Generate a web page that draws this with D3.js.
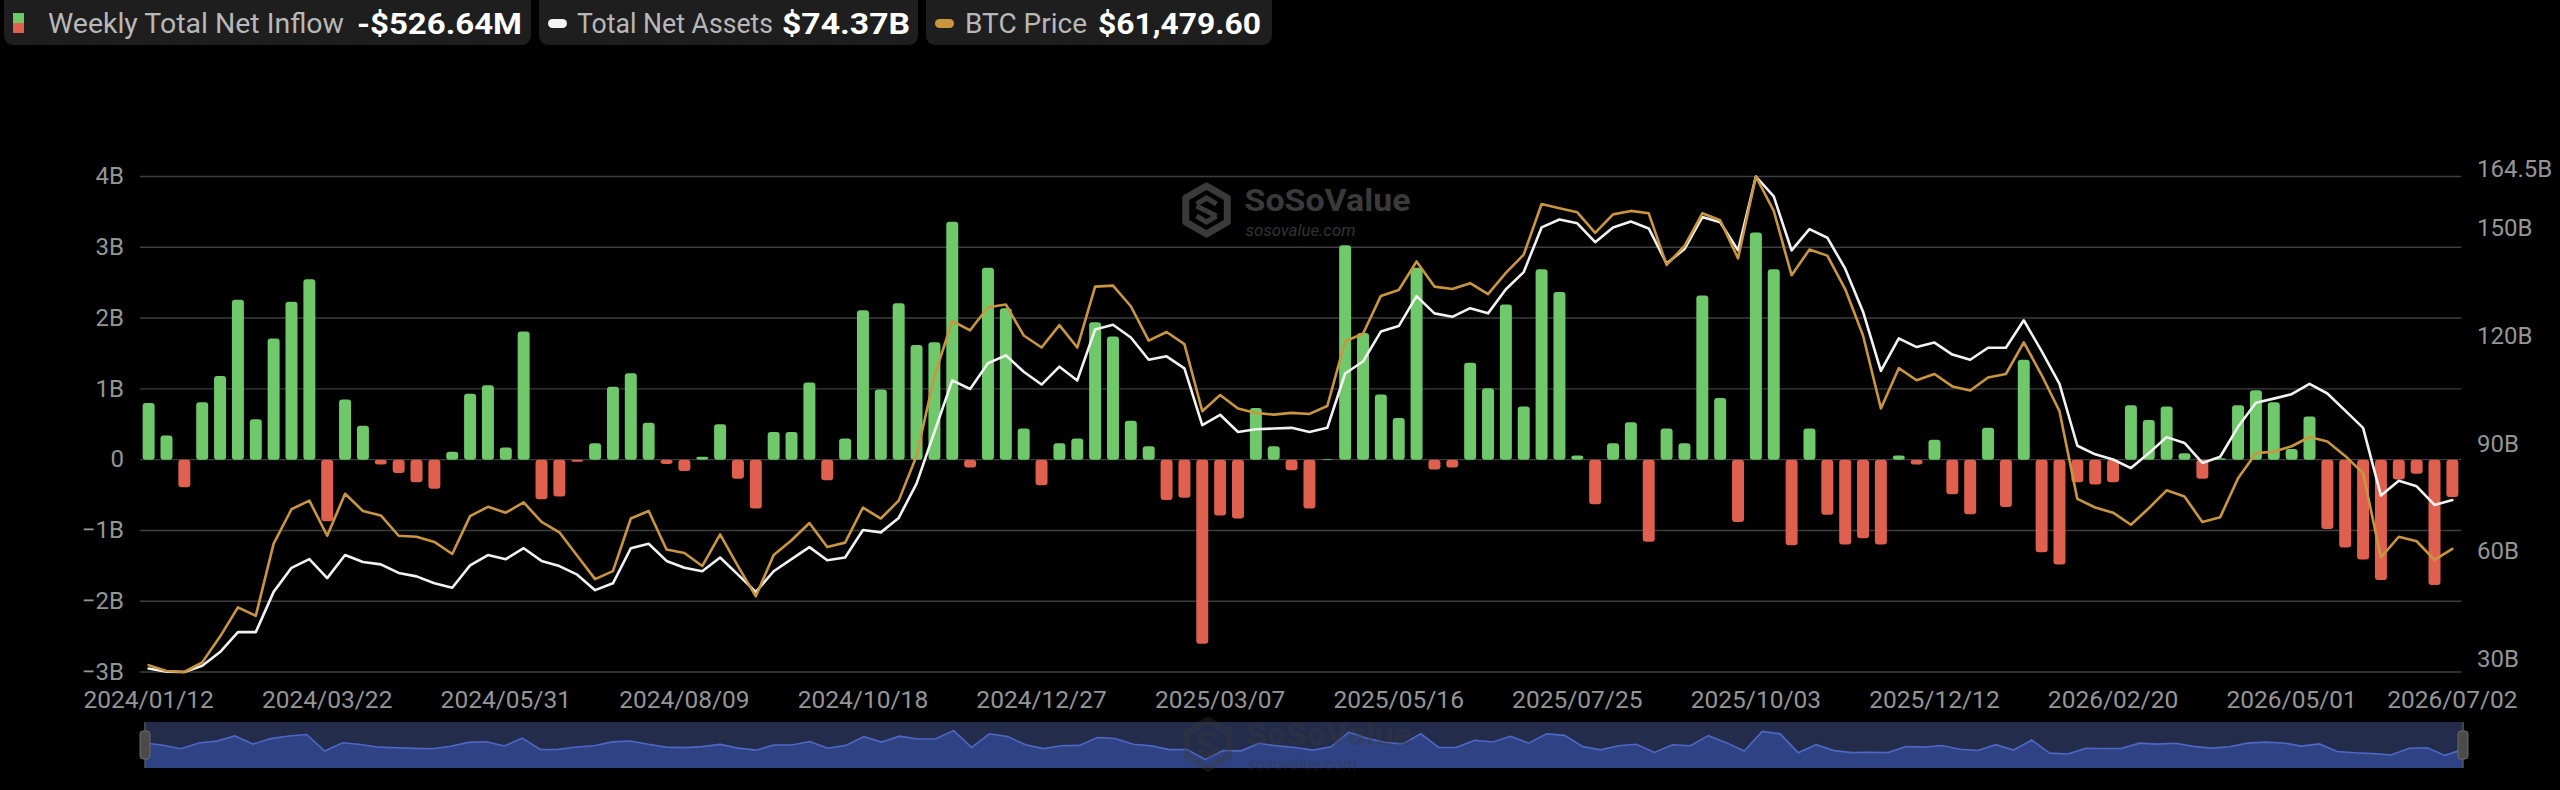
<!DOCTYPE html>
<html>
<head>
<meta charset="utf-8">
<script src="https://cdn.jsdelivr.net/npm/d3@7"></script>
<style>
html,body{margin:0;padding:0;background:#000;}
svg{display:block;}
text{font-family:Roboto,"Noto Sans",sans-serif;}
</style>
</head>
<body>
<svg id="chart" width="2560" height="790"></svg>
<script>
// ---------------- DATA ----------------
const categories = [
"2024/01/12","2024/01/19","2024/01/26","2024/02/02","2024/02/09","2024/02/16","2024/02/23","2024/03/01","2024/03/08","2024/03/15",
"2024/03/22","2024/03/29","2024/04/05","2024/04/12","2024/04/19","2024/04/26","2024/05/03","2024/05/10","2024/05/17","2024/05/24",
"2024/05/31","2024/06/07","2024/06/14","2024/06/21","2024/06/28","2024/07/05","2024/07/12","2024/07/19","2024/07/26","2024/08/02",
"2024/08/09","2024/08/16","2024/08/23","2024/08/30","2024/09/06","2024/09/13","2024/09/20","2024/09/27","2024/10/04","2024/10/11",
"2024/10/18","2024/10/25","2024/11/01","2024/11/08","2024/11/15","2024/11/22","2024/11/29","2024/12/06","2024/12/13","2024/12/20",
"2024/12/27","2025/01/03","2025/01/10","2025/01/17","2025/01/24","2025/01/31","2025/02/07","2025/02/14","2025/02/21","2025/02/28",
"2025/03/07","2025/03/14","2025/03/21","2025/03/28","2025/04/04","2025/04/11","2025/04/18","2025/04/25","2025/05/02","2025/05/09",
"2025/05/16","2025/05/23","2025/05/30","2025/06/06","2025/06/13","2025/06/20","2025/06/27","2025/07/04","2025/07/11","2025/07/18",
"2025/07/25","2025/08/01","2025/08/08","2025/08/15","2025/08/22","2025/08/29","2025/09/05","2025/09/12","2025/09/19","2025/09/26",
"2025/10/03","2025/10/10","2025/10/17","2025/10/24","2025/10/31","2025/11/07","2025/11/14","2025/11/21","2025/11/28","2025/12/05",
"2025/12/12","2025/12/19","2025/12/26","2026/01/02","2026/01/09","2026/01/16","2026/01/23","2026/01/30","2026/02/06","2026/02/13",
"2026/02/20","2026/02/27","2026/03/06","2026/03/13","2026/03/20","2026/03/27","2026/04/03","2026/04/10","2026/04/17","2026/04/24",
"2026/05/01","2026/05/08","2026/05/15","2026/05/22","2026/05/29","2026/06/05","2026/06/12","2026/06/19","2026/06/26","2026/07/02"
];

// Weekly total net inflow, billions USD
const weeklyNetInflowB = [
 0.80, 0.34,-0.39, 0.81, 1.18, 2.26, 0.57, 1.71, 2.23, 2.55,
-0.87, 0.85, 0.48,-0.07,-0.19,-0.32,-0.41, 0.11, 0.93, 1.05,
 0.17, 1.81,-0.56,-0.52,-0.03, 0.23, 1.03, 1.22, 0.52,-0.06,
-0.16, 0.04, 0.50,-0.27,-0.69, 0.39, 0.39, 1.09,-0.29, 0.30,
 2.11, 0.99, 2.21, 1.62, 1.66, 3.36,-0.11, 2.71, 2.14, 0.44,
-0.36, 0.23, 0.30, 1.94, 1.74, 0.55, 0.19,-0.57,-0.54,-2.60,
-0.79,-0.83, 0.73, 0.19,-0.15,-0.69, 0.01, 3.03, 1.79, 0.92,
 0.59, 2.71,-0.14,-0.11, 1.37, 1.01, 2.19, 0.75, 2.69, 2.37,
 0.06,-0.63, 0.23, 0.53,-1.16, 0.44, 0.23, 2.32, 0.87,-0.88,
 3.21, 2.69,-1.21, 0.44,-0.78,-1.20,-1.11,-1.20, 0.06,-0.07,
 0.28,-0.49,-0.77, 0.45,-0.67, 1.41,-1.31,-1.48,-0.32,-0.35,
-0.32, 0.77, 0.56, 0.75, 0.09,-0.27, 0.02, 0.77, 0.98, 0.81,
 0.15, 0.61,-0.98,-1.24,-1.41,-1.70,-0.28,-0.20,-1.77,-0.52664
];

// Total net assets, billions USD
const totalNetAssetsB = [
 27.44, 26.58, 26.48, 28.21, 32.04, 37.59, 37.59, 48.80, 55.50, 57.90,
 52.63, 59.05, 57.13, 56.46, 54.07, 53.11, 51.19, 49.95, 56.17, 59.05,
 57.90, 60.96, 57.42, 55.98, 53.59, 49.28, 51.19, 60.96, 62.21, 57.42,
 55.50, 54.54, 58.38, 53.59, 48.80, 54.54, 57.90, 61.25, 57.61, 58.38,
 66.04, 65.37, 69.39, 78.97, 93.34,107.70,105.31,112.49,114.69,110.10,
106.55,111.53,107.70,121.88,123.22,119.67,113.45,114.41,111.05, 95.25,
 98.12, 93.34, 94.10, 94.29, 94.49, 93.34, 94.49,109.62,112.97,121.30,
122.84,131.17,126.38,125.42,127.82,126.38,133.08,137.87,150.32,152.53,
151.47,146.21,150.32,151.95,150.04,140.27,144.29,153.20,151.76,143.91,
164.50,158.94,143.91,149.85,147.45,138.83,126.86,110.38,119.39,116.99,
118.24,114.89,113.45,116.80,116.80,124.46,115.84,106.75, 89.50, 87.11,
 85.67, 83.28, 87.40, 91.90, 90.27, 84.72, 86.44, 94.77,101.48,102.63,
103.87,106.75,104.06, 99.27, 94.49, 75.62, 79.73, 78.20, 73.03, 74.37
];

// BTC price, USD
const btcPrice = [
 42617, 41667, 41500, 43063, 47250, 51996, 50600, 62325, 67908, 69303,
 63609, 70420, 67628, 66903, 63609, 63441, 62604, 60650, 66791, 68298,
 67349, 69024, 65842, 64167, 60371, 56574, 57858, 66400, 67628, 61375,
 60817, 58696, 63832, 58696, 53783, 60482, 62883, 65674, 61766, 62492,
 68187, 66400, 69303, 76561, 89500, 98447, 96939,100680,101126, 96102,
 94148, 97777, 94148,104030,104197,100847, 95264, 96660, 94706, 83819,
 86443, 84266, 83540, 83261, 83540, 83373, 84657, 95153, 96381,102522,
103471,108105,104030,103639,104588,102801,106263,109222,117429,116759,
116089,112739,115754,116312,115921,107547,110618,115921,114805,108608,
121895,116312,105872,110059,109054,103639, 96102, 84266, 90798, 88844,
 89849, 87839, 87169, 89290, 89849, 94985, 89681, 83819, 69582, 68187,
 67349, 65395, 68075, 70978, 69973, 65842, 66624, 72932, 77008, 77231,
 78124, 79631, 78906, 76561, 73770, 60091, 63441, 62715, 59701, 61479.60
];

const leftTicks = [4, 3, 2, 1, 0, -1, -2, -3];
const rightTicks = [30, 60, 90, 120, 150, 164.5];
const xTickLabels = ["2024/01/12","2024/03/22","2024/05/31","2024/08/09","2024/10/18","2024/12/27",
  "2025/03/07","2025/05/16","2025/07/25","2025/10/03","2025/12/12","2026/02/20","2026/05/01","2026/07/02"];

const legendLabels = ["Weekly Total Net Inflow", "Total Net Assets", "BTC Price"];
const legendValues = ["-$526.64M", "$74.37B", "$61,479.60"];

// ---------------- STYLE ----------------
const C = {
  green: "#6fc96a", red: "#e0604f", white: "#f2f2f2", gold: "#c9963f",
  grid: "#3e3e3e", axisText: "#959595",
  navBg: "#232c4b", navArea: "#2f4284", navLine: "#4e67c4"
};

const svg = d3.select("#chart");
svg.append("rect").attr("width", 2560).attr("height", 790).attr("fill", "#000");

const plot = {left: 139.7, right: 2461.3, top: 176.5, bottom: 672};

const x = d3.scaleBand().domain(categories).range([plot.left, plot.right])
  .paddingInner(0.33).paddingOuter(0.165);
const cx = c => x(c) + x.bandwidth() / 2;
const yL = d3.scaleLinear().domain([-3, 4]).range([plot.bottom, plot.top]);
const yR = d3.scaleLinear().domain(d3.extent(totalNetAssetsB)).range([plot.bottom, plot.top]);
const yB = d3.scaleLinear().domain(d3.extent(btcPrice)).range([plot.bottom, plot.top]);

// ---------------- WATERMARK ----------------
function watermark(g, cxp, cyp) {
  const r = 24;
  const hex = d3.range(6).map(k => {
    const a = (Math.PI / 3) * k - Math.PI / 2;
    return [cxp + r * Math.cos(a), cyp + r * Math.sin(a)];
  });
  g.append("path").attr("d", "M" + hex.join("L") + "Z")
    .attr("fill", "none").attr("stroke", "#3a3a3a").attr("stroke-width", 7)
    .attr("stroke-linejoin", "round");
  g.append("path")
    .attr("d", `M${cxp - 10},${cyp - 6} L${cxp},${cyp - 12} L${cxp + 10},${cyp - 6} M${cxp - 10},${cyp - 4} L${cxp + 10},${cyp + 6} M${cxp - 10},${cyp + 6} L${cxp},${cyp + 12} L${cxp + 10},${cyp + 6}`)
    .attr("fill", "none").attr("stroke", "#3a3a3a").attr("stroke-width", 5);
  g.append("text").attr("x", cxp + 38).attr("y", cyp + 1)
    .attr("font-size", 32).attr("font-weight", 700).attr("fill", "#3a3a3a")
    .attr("textLength", 166).attr("lengthAdjust", "spacingAndGlyphs").text("SoSoValue");
  g.append("text").attr("x", cxp + 39).attr("y", cyp + 26)
    .attr("font-size", 16).attr("font-style", "italic").attr("fill", "#333")
    .attr("textLength", 110).attr("lengthAdjust", "spacingAndGlyphs").text("sosovalue.com");
}
watermark(svg.append("g"), 1206.5, 210);

// ---------------- GRID ----------------
svg.append("g").selectAll("line").data(leftTicks).join("line")
  .attr("x1", plot.left).attr("x2", plot.right)
  .attr("y1", d => yL(d)).attr("y2", d => yL(d))
  .attr("stroke", C.grid).attr("stroke-width", 1.4);

// ---------------- AXES ----------------
const fmtL = d => d === 0 ? "0" : (d < 0 ? "\u2212" + Math.abs(d) + "B" : d + "B");
const gL = svg.append("g").attr("transform", "translate(124,0)")
  .call(d3.axisLeft(yL).tickValues(leftTicks).tickFormat(fmtL).tickSize(0).tickPadding(0));
const gR = svg.append("g").attr("transform", "translate(2477,0)")
  .call(d3.axisRight(yR).tickValues(rightTicks).tickFormat(d => d + "B").tickSize(0).tickPadding(0));
const gX = svg.append("g").attr("transform", "translate(0,690.6)")
  .call(d3.axisBottom(x).tickValues(xTickLabels).tickSize(0).tickPadding(0));
[gL, gR, gX].forEach(g => {
  g.select(".domain").remove();
  g.selectAll("text").attr("fill", C.axisText)
    .attr("font-family", "Roboto, 'Noto Sans', sans-serif");
});
gL.selectAll("text").attr("font-size", 24).attr("dy", "0.3em");
gR.selectAll("text").attr("font-size", 24).attr("dy", "0.3em");
gX.selectAll("text").attr("font-size", 24.5);
gR.selectAll(".tick").filter(d => d === 164.5).select("text").attr("dy", "0em");

// ---------------- BARS ----------------
svg.append("g").selectAll("rect").data(weeklyNetInflowB).join("rect")
  .attr("x", (d, i) => x(categories[i]))
  .attr("width", x.bandwidth())
  .attr("y", d => yL(Math.max(0, d)))
  .attr("height", d => Math.max(0.8, Math.abs(yL(d) - yL(0))))
  .attr("rx", 3).attr("ry", 3)
  .attr("fill", d => d >= 0 ? C.green : C.red);

// ---------------- LINES ----------------
const lineR = d3.line().x((d, i) => cx(categories[i])).y(d => yR(d));
const lineB = d3.line().x((d, i) => cx(categories[i])).y(d => yB(d));
svg.append("path").datum(totalNetAssetsB).attr("d", lineR)
  .attr("fill", "none").attr("stroke", C.white).attr("stroke-width", 2.6)
  .attr("stroke-linejoin", "round").attr("stroke-linecap", "round");
svg.append("path").datum(btcPrice).attr("d", lineB)
  .attr("fill", "none").attr("stroke", C.gold).attr("stroke-width", 2.6)
  .attr("stroke-linejoin", "round").attr("stroke-linecap", "round");

// ---------------- NAVIGATOR ----------------
const nav = {left: 145, right: 2463, top: 722, bottom: 768};
const ext = d3.extent(weeklyNetInflowB);
const off = (ext[1] - ext[0]) * 0.3;
const nx = d3.scaleLinear().domain([0, weeklyNetInflowB.length - 1]).range([nav.left, nav.right]);
const ny = d3.scaleLinear().domain([ext[0] - off, ext[1] + off]).range([nav.bottom, nav.top]);
const gN = svg.append("g");
gN.append("rect").attr("x", nav.left).attr("y", nav.top)
  .attr("width", nav.right - nav.left).attr("height", nav.bottom - nav.top).attr("fill", C.navBg);
gN.append("path").datum(weeklyNetInflowB)
  .attr("d", d3.area().x((d, i) => nx(i)).y0(nav.bottom).y1(d => ny(d)))
  .attr("fill", C.navArea);
gN.append("path").datum(weeklyNetInflowB)
  .attr("d", d3.line().x((d, i) => nx(i)).y(d => ny(d)))
  .attr("fill", "none").attr("stroke", C.navLine).attr("stroke-width", 1.6);
const wm2 = gN.append("g").attr("opacity", 0.35);
watermark(wm2, 1208, 744);
[nav.left, nav.right].forEach(hx => {
  gN.append("line").attr("x1", hx).attr("x2", hx).attr("y1", nav.top).attr("y2", nav.bottom)
    .attr("stroke", "#555").attr("stroke-width", 1.5);
  gN.append("rect").attr("x", hx - 5).attr("y", nav.top + 9).attr("width", 10).attr("height", 28)
    .attr("rx", 3).attr("fill", "#4b4b4b").attr("stroke", "#6a6a6a").attr("stroke-width", 1);
});

// ---------------- LEGEND ----------------
const boxes = [
  {x: 4, w: 527, lx: 48, lw: 296, vx: 357, vw: 165},
  {x: 539, w: 379, lx: 577, lw: 196, vx: 782, vw: 128},
  {x: 926, w: 346, lx: 965, lw: 122, vx: 1098, vw: 163}
];
const gLeg = svg.append("g");
boxes.forEach((b, i) => {
  gLeg.append("rect").attr("x", b.x).attr("y", -12).attr("width", b.w).attr("height", 57)
    .attr("rx", 9).attr("fill", "#1e1e1e");
  gLeg.append("text").attr("x", b.lx).attr("y", 33).attr("font-size", 27)
    .attr("fill", "#b8b8b8").attr("textLength", b.lw).attr("lengthAdjust", "spacingAndGlyphs")
    .text(legendLabels[i]);
  gLeg.append("text").attr("x", b.vx).attr("y", 34).attr("font-size", 30).attr("font-weight", 700)
    .attr("fill", "#ffffff").attr("textLength", b.vw).attr("lengthAdjust", "spacingAndGlyphs")
    .text(legendValues[i]);
});
gLeg.append("rect").attr("x", 13).attr("y", 13).attr("width", 11).attr("height", 10).attr("fill", C.green);
gLeg.append("rect").attr("x", 13).attr("y", 23).attr("width", 11).attr("height", 10).attr("fill", C.red);
gLeg.append("rect").attr("x", 548).attr("y", 19).attr("width", 19).attr("height", 9).attr("rx", 4.5).attr("fill", C.white);
gLeg.append("rect").attr("x", 935).attr("y", 19).attr("width", 19).attr("height", 9).attr("rx", 4.5).attr("fill", C.gold);
</script>
</body>
</html>
